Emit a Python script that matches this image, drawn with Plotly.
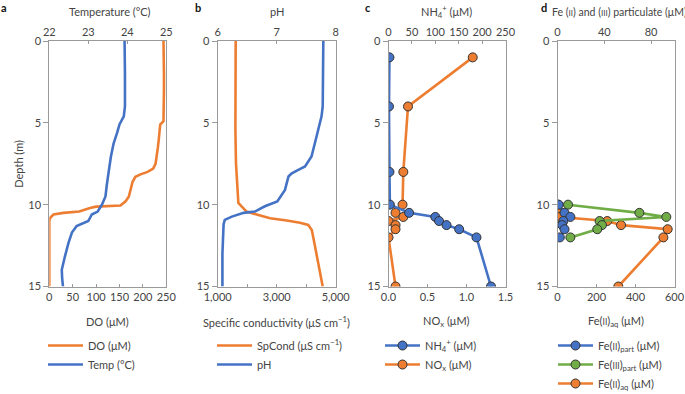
import plotly.graph_objects as go

W, H = 685, 394
ORANGE = "#ED7D31"
BLUE = "#4472C4"
GREEN = "#70AD47"
AXC = "#9a9a9a"
TXT = "#444444"
FONT = "Lato"

# ---------------- Panel a: DO and Temperature profiles ----------------
do_depth = [0, 1, 2, 3, 4, 4.9, 5.1, 5.5, 6, 6.5, 7, 7.5, 7.8, 8.0, 8.15, 8.3, 8.6, 9.0, 9.5,
            9.8, 10.05, 10.12, 10.2, 10.42, 10.5, 10.6, 10.8, 11, 12, 13, 14, 15]
do_vals = [244, 245, 245, 245, 244, 244, 237, 235, 234, 232, 230, 227, 222, 210, 195, 184, 178,
           175, 170, 163, 152, 100, 87, 64, 30, 9, 2, 0, 0, 0, 0, 0]
temp_depth = [0, 1, 2, 3, 4, 4.6, 5.1, 5.6, 6.25, 7.06, 7.88, 8.69, 9.5, 10.0, 10.42, 10.6,
              11.0, 11.3, 11.7, 12.35, 13.17, 13.98, 14.5, 15]
temp_vals = [23.93, 23.94, 23.94, 23.94, 23.94, 23.91, 23.80, 23.74, 23.65, 23.58, 23.52, 23.48,
             23.44, 23.35, 23.24, 23.09, 23.00, 22.70, 22.58, 22.49, 22.40, 22.32, 22.33, 22.35]

# ---------------- Panel b: SpCond and pH profiles ----------------
ph_depth = [0, 1, 2, 3, 4, 4.6, 5.4, 6.2, 7.06, 7.67, 7.9, 8.1, 8.28, 9.1, 9.8, 10.1, 10.42,
            10.5, 10.73, 10.93, 11.2, 12, 13, 14, 15]
ph_vals = [7.79, 7.79, 7.78, 7.78, 7.78, 7.76, 7.71, 7.65, 7.59, 7.48, 7.35, 7.25, 7.20, 7.14,
           7.01, 6.80, 6.63, 6.44, 6.24, 6.12, 6.10, 6.09, 6.08, 6.08, 6.08]
sc_depth = [0, 2, 4, 5.4, 7.47, 8.5, 9.9, 10.1, 10.42, 10.6, 10.83, 10.97, 11.1, 11.24, 11.55,
            12.56, 13.58, 14.8, 15]
sc_vals = [1610, 1600, 1600, 1600, 1620, 1655, 1700, 1810, 1980, 2320, 2775, 3340, 3790, 4070,
           4190, 4300, 4410, 4525, 4560]

# ---------------- Panel c: NH4+ and NOx ----------------
c_depth = [1, 4, 8, 10, 10.5, 10.75, 11, 11.25, 11.5, 12, 15]
nh4_vals = [2, 1, 2, 3, 44, 100, 108, 124, 151, 188, 219]
nox_vals = [1.08, 0.25, 0.19, 0.18, 0.09, 0.19, 0.0, 0.09, 0.09, 0.0, 0.09]

# ---------------- Panel d: Fe species ----------------
d_depth = [10, 10.5, 10.75, 11, 11.25, 11.5, 12]
feii_part = [1, 6, 11, 5, 4, 6, 2]
feiii_part = [9, 70, 93, 36, 38, 34, 11]
feaq_depth = [10, 10.5, 10.75, 11, 11.25, 11.5, 12, 15]
feii_aq = [2, 4, 13, 255, 326, 565, 543, 312]

depth_ticks = [0, 5, 10, 15]

# pixel geometry helpers
def px(x):
    return x / W

def py(y):
    return 1 - y / H

def sc(t, size=8.5):
    # small-caps style roman numerals
    return f"<span style='font-size:{size}px'>{t}</span>"

panel_x = [(49.3, 166.3), (217.7, 335.7), (388.5, 505.5), (557.5, 674.5)]
plot_top, plot_bot = 41, 286.5
ydom = [py(plot_bot), py(plot_top)]

fig = go.Figure()

line_w = 2.6
mk = dict(size=9, line=dict(color="#333333", width=1))

# panel a
fig.add_trace(go.Scatter(x=do_vals, y=do_depth, mode="lines", line=dict(color=ORANGE, width=line_w),
                         name="DO (μM)", xaxis="x", yaxis="y", legend="legend"))
fig.add_trace(go.Scatter(x=temp_vals, y=temp_depth, mode="lines", line=dict(color=BLUE, width=line_w),
                         name="Temp (°C)", xaxis="x2", yaxis="y", legend="legend"))
# panel b
fig.add_trace(go.Scatter(x=sc_vals, y=sc_depth, mode="lines", line=dict(color=ORANGE, width=line_w),
                         name="SpCond (μS cm<sup>−1</sup>)", xaxis="x3", yaxis="y2", legend="legend2"))
fig.add_trace(go.Scatter(x=ph_vals, y=ph_depth, mode="lines", line=dict(color=BLUE, width=line_w),
                         name="pH", xaxis="x4", yaxis="y2", legend="legend2"))
# panel c
fig.add_trace(go.Scatter(x=nh4_vals, y=c_depth, mode="lines+markers", line=dict(color=BLUE, width=line_w),
                         marker=dict(color=BLUE, **mk),
                         name="NH<sub>4</sub><sup>+</sup> (μM)", xaxis="x6", yaxis="y3", legend="legend3"))
fig.add_trace(go.Scatter(x=nox_vals, y=c_depth, mode="lines+markers", line=dict(color=ORANGE, width=line_w),
                         marker=dict(color=ORANGE, **mk),
                         name="NO<sub>x</sub> (μM)", xaxis="x5", yaxis="y3", legend="legend3"))
# panel d
fig.add_trace(go.Scatter(x=feii_aq, y=feaq_depth, mode="lines+markers", line=dict(color=ORANGE, width=line_w),
                         marker=dict(color=ORANGE, **mk),
                         name=f"Fe({sc('II')})<sub>aq</sub> (μM)", xaxis="x7", yaxis="y4", legend="legend4",
                         legendrank=3))
fig.add_trace(go.Scatter(x=feiii_part, y=d_depth, mode="lines+markers", line=dict(color=GREEN, width=line_w),
                         marker=dict(color=GREEN, **mk),
                         name=f"Fe({sc('III')})<sub>part</sub> (μM)", xaxis="x8", yaxis="y4", legend="legend4",
                         legendrank=2))
fig.add_trace(go.Scatter(x=feii_part, y=d_depth, mode="lines+markers", line=dict(color=BLUE, width=line_w),
                         marker=dict(color=BLUE, **mk),
                         name=f"Fe({sc('II')})<sub>part</sub> (μM)", xaxis="x8", yaxis="y4", legend="legend4",
                         legendrank=1))

tickfont = dict(family=FONT, size=11, color=TXT)

def xaxis_cfg(i, side, rng, tickvals, ticktext=None, overlay=None):
    d = dict(domain=[px(panel_x[i][0]), px(panel_x[i][1])], range=rng, side=side,
             anchor="y" if i == 0 else f"y{i+1}", showline=True, linecolor=AXC, linewidth=1,
             ticks="inside", ticklen=3, tickcolor=AXC, tickfont=tickfont, tickvals=tickvals,
             showgrid=False, zeroline=False, fixedrange=True, automargin=False)
    if ticktext is not None:
        d["ticktext"] = ticktext
    if overlay:
        d["overlaying"] = overlay
    return d

def yaxis_cfg(i):
    return dict(domain=ydom, range=[15, 0], anchor="x" if i == 0 else f"x{2*i+1}",
                showline=True, mirror=True, linecolor=AXC, linewidth=1, ticks="outside", ticklen=5,
                tickcolor=AXC, tickfont=tickfont, tickvals=depth_ticks, showgrid=False,
                zeroline=False, fixedrange=True, automargin=False)

layout = dict(
    width=W, height=H, margin=dict(l=0, r=0, t=0, b=0, pad=0, autoexpand=False),
    paper_bgcolor="white", plot_bgcolor="white",
    font=dict(family=FONT, size=11, color=TXT),
    xaxis=xaxis_cfg(0, "bottom", [0, 250], [0, 50, 100, 150, 200, 250]),
    xaxis2=xaxis_cfg(0, "top", [22, 25], [22, 23, 24, 25], overlay="x"),
    xaxis3=xaxis_cfg(1, "bottom", [1000, 5000], [1000, 2000, 3000, 4000, 5000],
                     ["1,000", "", "3,000", "", "5,000"]),
    xaxis4=xaxis_cfg(1, "top", [6, 8], [6, 7, 8], overlay="x3"),
    xaxis5=xaxis_cfg(2, "bottom", [0, 1.5], [0, 0.5, 1.0, 1.5], ["0.0", "0.5", "1.0", "1.5"]),
    xaxis6=xaxis_cfg(2, "top", [0, 250], [0, 50, 100, 150, 200, 250], overlay="x5"),
    xaxis7=xaxis_cfg(3, "bottom", [0, 600], [0, 200, 400, 600]),
    xaxis8=xaxis_cfg(3, "top", [0, 100], [0, 40, 80], overlay="x7"),
    yaxis=yaxis_cfg(0), yaxis2=yaxis_cfg(1), yaxis3=yaxis_cfg(2), yaxis4=yaxis_cfg(3),
    showlegend=True,
)

leg_x = [48, 217, 385, 558]
for k, name in enumerate(["legend", "legend2", "legend3", "legend4"]):
    layout[name] = dict(x=px(leg_x[k] - 5), y=py(331), xanchor="left", yanchor="top",
                        bgcolor="rgba(0,0,0,0)", font=dict(family=FONT, size=11, color=TXT),
                        itemwidth=35, tracegroupgap=0, traceorder="normal")
fig.update_layout(**layout)

anns = []
def ann(text, x, y, size=11, bold=False, angle=0, xanchor="center"):
    anns.append(dict(text=f"<b>{text}</b>" if bold else text, x=px(x), y=py(y), xref="paper",
                     yref="paper", showarrow=False, textangle=angle, xanchor=xanchor,
                     yanchor="middle", font=dict(family=FONT, size=size, color=TXT if not bold else "#111")))

# top titles
ann("Temperature (°C)", 109.5, 12)
ann("pH", 276.5, 12)
ann("NH<sub>4</sub><sup>+</sup> (μM)", 447, 12)
ann(f"Fe ({sc('II', 8)}) and ({sc('III', 8)}) particulate (μM)", 550, 12, size=10.5, xanchor="left")
# bottom titles
ann("DO (μM)", 107.8, 321)
ann("Specific conductivity (μS cm<sup>−1</sup>)", 276.7, 321)
ann("NO<sub>x</sub> (μM)", 447, 321)
ann(f"Fe({sc('II')})<sub>aq</sub> (μM)", 616, 321)
# y title
ann("Depth (m)", 19, 163.75, angle=-90)
# panel letters
for letter, lx in zip("abcd", [4, 198, 368, 544]):
    ann(letter, lx, 8, size=11, bold=True)

fig.update_layout(annotations=anns)
fig.write_html("out.html", config={"displayModeBar": False},
               post_script="document.body.style.margin='0';")
